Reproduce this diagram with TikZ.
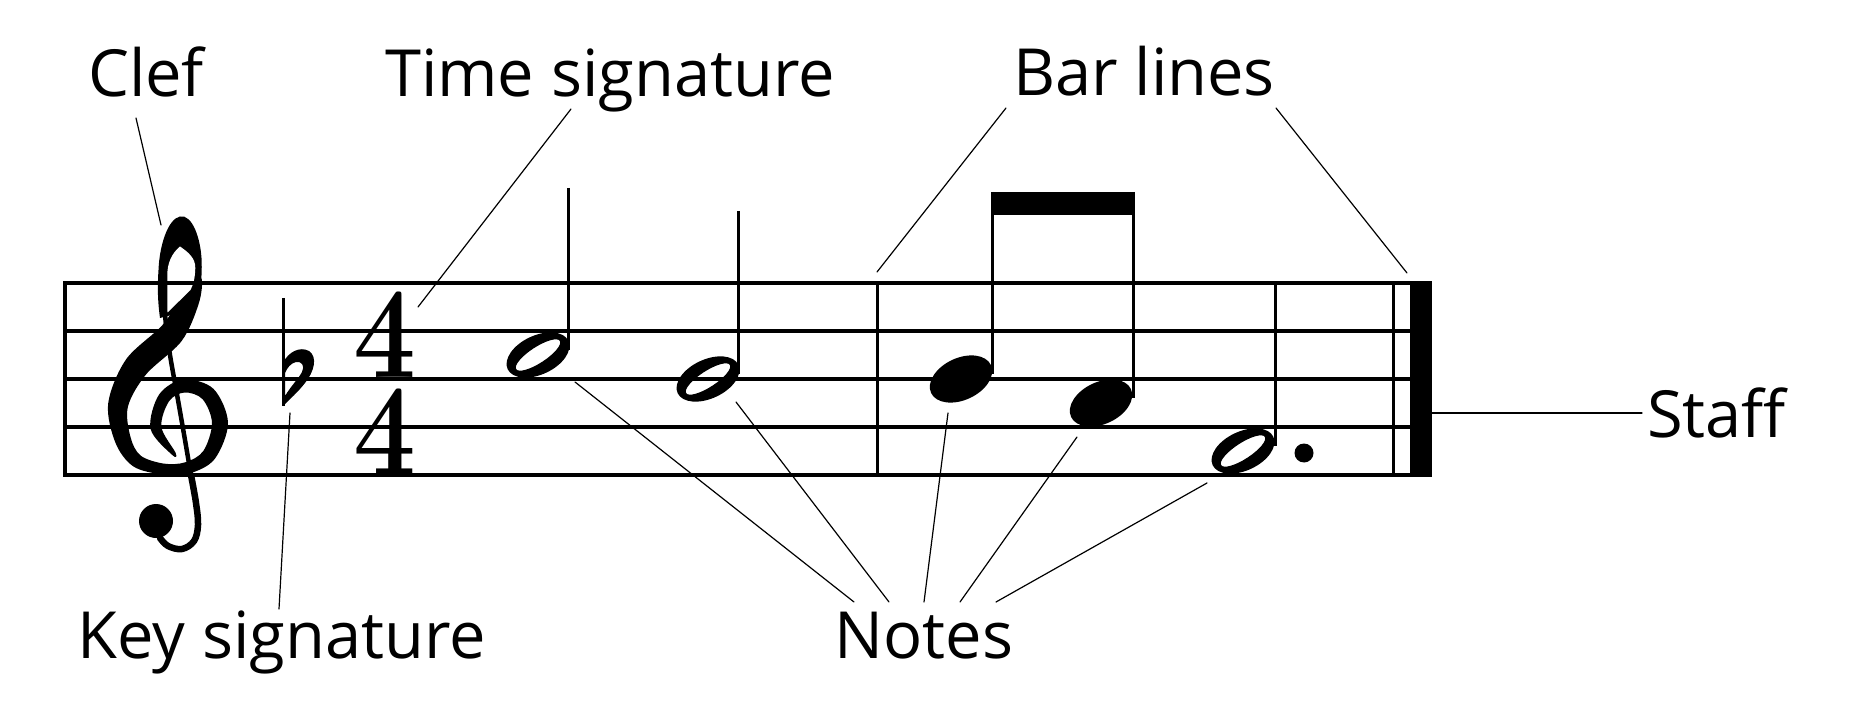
\documentclass[tikz,border=0pt]{standalone}
\usepackage{fontspec}
\usepackage{graphicx}
\setmainfont{Open Sans}
\newcommand\labelfont{\fontsize{65}{70}\selectfont}
\newcommand\tsfour{\scalebox{0.86}[1]{\fontfamily{lmr}\fontseries{bx}\fontsize{130}{130}\selectfont 4}}
\tikzset{
  staffline/.style={line width=3.2pt},
  stemline/.style={line width=3.6pt},
  leader/.style={line width=1.2pt, line cap=round},
  lbl/.style={inner sep=0pt, anchor=base, font=\labelfont},
  tsnum/.style={inner sep=0pt, anchor=south, align=center, font=\fontsize{130}{97}\selectfont},
  halfhead/.style={even odd rule},
}
\begin{document}
\begin{tikzpicture}[x=1pt,y=-1pt]
\fill[white] (0,0) rectangle (1854,708);
\useasboundingbox (0,0) rectangle (1854,708);

% ---- treble clef ----
% spiral body and diagonal
\fill plot[smooth cycle, tension=0.55] coordinates {
 (172.4,455.1) (150.6,429) (159,394.7) (183.4,379.5) (213.4,388.8) (228,422.9)
 (214.6,459.1) (188.7,473.7) (162.2,474.4) (133.2,466.3) (115.4,442.6) (108.2,403.3)
 (126,359.5) (162.3,325.2) (181.4,296) (193.2,276.6)
 (201.8,279.4) (198.6,304)
 (181.7,340.9) (146,374.5) (127.9,406.8) (130.6,437.4) (140.8,455.7)
 (163.8,463.6) (185.3,462.3) (203.4,450.9) (212,423.1) (202.6,399.2) (184.6,392.5)
 (169,401.3) (161.4,427) (175.6,452.9)};
% upper loop
\fill (160,318) .. controls (157.5,300) and (157.5,285) .. (158.5,270)
  .. controls (159.5,245) and (168,219) .. (180,216.5)
  .. controls (192,214) and (201,238) .. (201.7,262)
  .. controls (202,276) and (201,286) .. (198,296) -- (183,312) -- cycle;
\fill[white] (180,246.5) .. controls (188,252) and (195.5,258) .. (195.3,268)
  .. controls (195,278) and (193.5,284) .. (190.5,290) -- (167.5,312.5)
  -- (167.3,275) .. controls (167.3,263) and (172,253) .. (180,246.5) -- cycle;
% stem, hook and ball
\draw[line width=4.5pt, line cap=round] plot[smooth, tension=0.6] coordinates {
 (165,312) (166,325) (170,355) (178,400) (185,440) (191,475) (196,503)};
\draw[line width=6.5pt, line cap=round] plot[smooth, tension=0.6] coordinates {
 (191,475) (196,503) (198,525) (194,541) (182,549) (168,546) (160,538)};
\fill (156,521) circle (17);

% ---- key signature (flat) ----
\draw[line width=3pt] (283,298) -- (283,406);
\fill[even odd rule] (283,363) .. controls (288,352) and (300,346) .. (309,351)
  .. controls (318,357) and (314,372) .. (305,383)
  .. controls (298,392) and (290,399) .. (283,406) -- cycle
  (285,396) .. controls (291,386) and (299,378) .. (302,372)
  .. controls (305,366) and (302,361) .. (296,362)
  .. controls (291,363) and (287,368) .. (285,373) -- cycle;

% ---- time signature ----
\node[tsnum] (ts) at (385,475) {\tsfour\\\tsfour};

% ---- notes ----
\coordinate (h1) at (538,355);
\coordinate (h2) at (708,379);
\coordinate (h3) at (961,379);
\coordinate (h4) at (1101,403);
\coordinate (h5) at (1243,451);
\fill[halfhead] (h1) circle [x radius=33.5, y radius=19.5, rotate=25]
                (h1) circle [x radius=26, y radius=8, rotate=33];
\fill[halfhead] (h2) circle [x radius=33.5, y radius=19.5, rotate=25]
                (h2) circle [x radius=26, y radius=8, rotate=33];
\fill (h3) circle [x radius=33, y radius=21, rotate=25];
\fill (h4) circle [x radius=33, y radius=21, rotate=25];
\fill[halfhead] (h5) circle [x radius=33.5, y radius=19.5, rotate=25]
                (h5) circle [x radius=26, y radius=8, rotate=33];
\draw[stemline] (568.5,188) -- (568.5,350);
\draw[stemline] (738.5,211) -- (738.5,374);
\draw[stemline] (992.3,192) -- (992.3,374);
\draw[stemline] (1133.5,192) -- (1133.5,398);
\draw[stemline] (1275.5,283) -- (1275.5,446);
\fill (990.5,191.7) rectangle (1135.3,215);
\fill (1304,453) circle (9.5);

% ---- staff and bar lines ----
\foreach \yy in {283,331,379,427,475} \draw[staffline] (63.4,\yy) -- (1420,\yy);
\draw[staffline] (65,281.4) -- (65,476.6);
\draw[stemline] (877.5,283) -- (877.5,475);
\draw[stemline] (1393.5,281.4) -- (1393.5,476.6);
\fill (1410,281.4) rectangle (1431.5,477);

% ---- labels ----
\node[lbl] (clef) at (146,97) {Clef};
\node[lbl] (timesig) at (610,97) {Time signature};
\node[lbl] (barlines) at (1144,96) {Bar lines};
\node[lbl] (keysig) at (282,658) {Key signature};
\node[lbl] (notes) at (924,658) {Notes};
\node[lbl, anchor=base west] (staff) at (1647,437) {Staff};

% ---- leader end points ----
\coordinate (clefA) at (136,118);   \coordinate (clefB) at (161,225);
\coordinate (tsA) at (571,109);     \coordinate (tsB) at (418,307);
\coordinate (blA) at (1006,108);    \coordinate (blB) at (877,272);
\coordinate (brA) at (1276,108);    \coordinate (brB) at (1407,273);
\coordinate (stA) at (1432,413);    \coordinate (stB) at (1642,413);
\coordinate (ksA) at (290,413);     \coordinate (ksB) at (279,609);
\coordinate (n1A) at (575,382);     \coordinate (n1B) at (854,602);
\coordinate (n2A) at (736,402);     \coordinate (n2B) at (889,602);
\coordinate (n3A) at (948,413);     \coordinate (n3B) at (924,602);
\coordinate (n4A) at (1077,437);    \coordinate (n4B) at (960,602);
\coordinate (n5A) at (1207,483);    \coordinate (n5B) at (996,602);

\draw[leader] (clefA) -- (clefB);
\draw[leader] (tsA) -- (tsB);
\draw[leader] (blA) -- (blB);
\draw[leader] (brA) -- (brB);
\draw[leader] (stA) -- (stB);
\draw[leader] (ksA) -- (ksB);
\draw[leader] (n1A) -- (n1B);
\draw[leader] (n2A) -- (n2B);
\draw[leader] (n3A) -- (n3B);
\draw[leader] (n4A) -- (n4B);
\draw[leader] (n5A) -- (n5B);
\end{tikzpicture}
\end{document}
